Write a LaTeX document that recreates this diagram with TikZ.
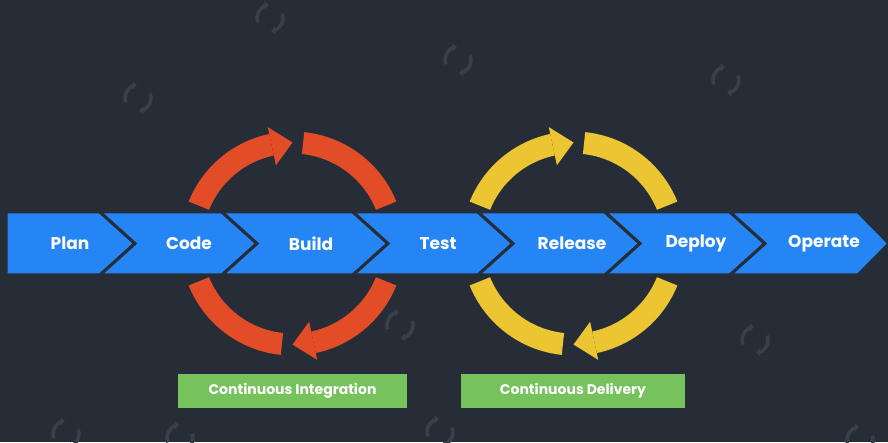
\documentclass[tikz,border=0pt]{standalone}
\usepackage{fontspec}
\setmainfont{Poppins}
\usetikzlibrary{arrows.meta}
\definecolor{bg}{HTML}{272D37}
\definecolor{band}{HTML}{2585F4}
\definecolor{ciR}{HTML}{E24C27}
\definecolor{cdY}{HTML}{EBC532}
\definecolor{lbl}{HTML}{76C25D}
\definecolor{icon}{HTML}{3A404A}
\tikzset{
  seg/.style={fill=band, draw=bg, line width=3pt, line join=miter},
  stxt/.style={text=white, font=\fontsize{17}{20}\selectfont\bfseries},
  ltxt/.style={fill=lbl, text=white, font=\fontsize{14}{16}\selectfont\bfseries, minimum height=34pt, inner sep=0pt},
  cyc/.style={draw=icon, line width=3.5pt},
}
\newcommand\bgicon[2]{%
  \draw[cyc,-{Triangle[length=4pt,width=8pt]}] (#1,#2) ++(200:13) arc[start angle=200,end angle=95,radius=13];
  \draw[cyc,-{Triangle[length=4pt,width=8pt]}] (#1,#2) ++(20:13) arc[start angle=20,end angle=-85,radius=13];
}
% annular sector: center, a1, a2
\newcommand\sect[4]{%
  \fill[#4] ($(#1)+(#2:112)$) arc[start angle=#2,end angle=#3,radius=112] -- ($(#1)+(#3:90)$) arc[start angle=#3,end angle=#2,radius=90] -- cycle;
}
\newcommand\ahead[4]{% center, base angle, tip angle, color
  \fill[#4] ($(#1)+(#2:80)$) -- ($(#1)+(#2:119)$) -- ($(#1)+(#3:101)$) -- cycle;
}
\usetikzlibrary{calc}
\begin{document}
\begin{tikzpicture}[x=1pt,y=1pt]
\fill[bg] (0,0) rectangle (888,442);
\useasboundingbox (0,0) rectangle (888,442);
% background icons
\bgicon{270}{424}
\bgicon{458}{382}
\bgicon{138}{344}
\bgicon{726}{362}
\bgicon{400}{117}
\bgicon{755}{102}
\bgicon{440}{10}
\bgicon{66}{8}
\bgicon{180}{4}
\bgicon{860}{2}
% rings
\coordinate (ci) at (292.5,198.5);
\coordinate (cd) at (573.5,198.5);
\foreach \c/\col in {ci/ciR, cd/cdY}{
  \sect{\c}{158}{102}{\col}
  \ahead{\c}{102}{90}{\col}
  \sect{\c}{84}{22}{\col}
  \sect{\c}{-22}{-78}{\col}
  \ahead{\c}{-78}{-90}{\col}
  \sect{\c}{-96}{-158}{\col}
}
% band
\def\yt{230}\def\yb{167}\def\ym{198.5}
\draw[seg] (6,\yt) -- (100,\yt) -- (135,\ym) -- (100,\yb) -- (6,\yb) -- cycle;
\foreach \a/\b in {135/257, 257/388, 388/513, 513/640, 640/765}{
  \draw[seg] (\a-35,\yt) -- (\b-35,\yt) -- (\b,\ym) -- (\b-35,\yb) -- (\a-35,\yb) -- (\a,\ym) -- cycle;
}
\draw[seg] (730,\yt) -- (858,\yt) -- (889,\ym) -- (858,\yb) -- (730,\yb) -- (765,\ym) -- cycle;
\node[stxt] (plan) at (70,\ym) {Plan};
\node[stxt] (code) at (189,\ym) {Code};
\node[stxt] (build) at (311,\ym) {Build};
\node[stxt] (test) at (438,\ym) {Test};
\node[stxt] (release) at (572,\ym) {Release};
\node[stxt] (deploy) at (696,\ym) {Deploy};
\node[stxt] (operate) at (824,\ym) {Operate};
\node[ltxt, minimum width=229pt] (cil) at (292.5,51) {Continuous Integration};
\node[ltxt, minimum width=224pt] (cdl) at (573,51) {Continuous Delivery};
\end{tikzpicture}
\end{document}
